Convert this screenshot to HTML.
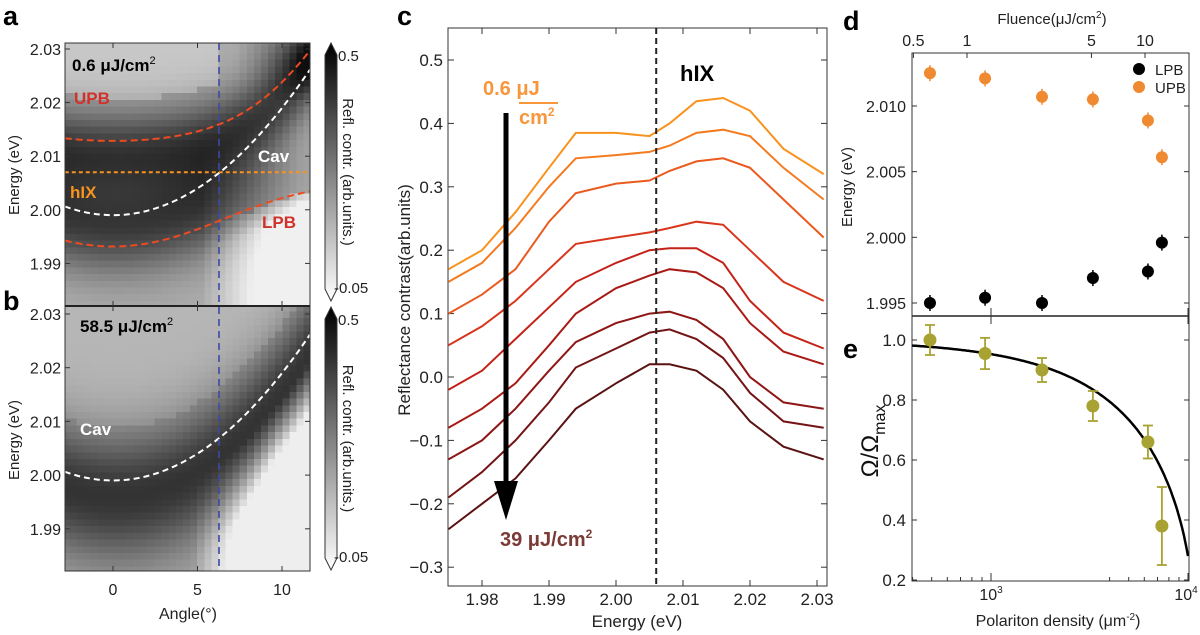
<!DOCTYPE html>
<html><head><meta charset="utf-8"><style>
html,body{margin:0;padding:0;background:#fff;}
body{position:relative;width:1200px;height:635px;overflow:hidden;}
svg{display:block;font-family:"Liberation Sans",Arial,sans-serif;}
</style></head><body>
<svg id="fig" width="1200" height="635" viewBox="0 0 1200 635" xmlns="http://www.w3.org/2000/svg">
<defs>
<linearGradient id="cbg" x1="0" y1="0" x2="0" y2="1"><stop offset="0" stop-color="#000"/><stop offset="1" stop-color="#fff"/></linearGradient>
<clipPath id="clipA"><rect x="65" y="43" width="245" height="263"/></clipPath>
<clipPath id="clipB"><rect x="65" y="306" width="245" height="265"/></clipPath>
<clipPath id="clipC"><rect x="448" y="28" width="379" height="558"/></clipPath>
<clipPath id="clipE"><rect x="912" y="316" width="277" height="265"/></clipPath>
</defs>
<g id="heatA" clip-path="url(#clipA)"></g>
<g id="heatB" clip-path="url(#clipB)"></g>
<g id="overlay"></g>
<g id="chartC"></g>
<g id="chartD"></g>
<g id="chartE"></g>
</svg>
<script>
// ---------- Panel c data ----------
const cEnergies = [1.975,1.98,1.985,1.99,1.994,2.0,2.005,2.008,2.012,2.016,2.02,2.025,2.031];
const cSeries = [
 [0.17,0.20,0.26,0.33,0.385,0.385,0.38,0.40,0.435,0.44,0.42,0.36,0.32],
 [0.15,0.18,0.235,0.30,0.345,0.35,0.355,0.365,0.385,0.39,0.38,0.33,0.28],
 [0.10,0.13,0.17,0.245,0.29,0.305,0.31,0.325,0.34,0.345,0.33,0.28,0.22],
 [0.05,0.08,0.12,0.17,0.21,0.22,0.228,0.235,0.245,0.24,0.20,0.15,0.12],
 [-0.02,0.01,0.06,0.11,0.15,0.18,0.20,0.203,0.203,0.18,0.12,0.07,0.045],
 [-0.08,-0.05,-0.01,0.05,0.10,0.14,0.16,0.17,0.165,0.14,0.085,0.04,0.02],
 [-0.13,-0.10,-0.05,0.01,0.055,0.085,0.10,0.103,0.09,0.06,0.00,-0.04,-0.05],
 [-0.19,-0.15,-0.10,-0.04,0.015,0.045,0.07,0.075,0.06,0.03,-0.025,-0.07,-0.08],
 [-0.24,-0.20,-0.16,-0.10,-0.05,-0.01,0.02,0.02,0.01,-0.02,-0.07,-0.11,-0.13]
];
const cColors = ["#f7931e","#f47a20","#ea5a1e","#d8361c","#c42218","#a91a16","#8e1614","#741414","#5a1212"];
const cYTicks = [0.5,0.4,0.3,0.2,0.1,0.0,-0.1,-0.2,-0.3];
const cYTickLabels = ["0.5","0.4","0.3","0.2","0.1","0.0","\u22120.1","\u22120.2","\u22120.3"];
const cXTicks = [1.98,1.99,2.00,2.01,2.02,2.03];
const cXTickLabels = ["1.98","1.99","2.00","2.01","2.02","2.03"];
const hIXEnergy = 2.006;

// ---------- Panel d data ----------
const dDensity = [490,933,1815,3290,6260,7370];
const dUPB = [2.0125,2.0121,2.0107,2.0105,2.0089,2.0061];
const dLPB = [1.9950,1.9954,1.9950,1.9969,1.9974,1.9996];
const dYTicks = [2.010,2.005,2.000,1.995];
const dYTickLabels = ["2.010","2.005","2.000","1.995"];
const fluenceTicks = [0.5,1,5,10];
const fluenceTickLabels = ["0.5","1","5","10"];

// ---------- Panel e data ----------
const eDensity = [490,933,1815,3290,6260,7370];
const eRatio = [1.0,0.955,0.90,0.78,0.66,0.38];
const eErr = [0.05,0.052,0.04,0.05,0.055,0.13];
const eYTicks = [1.0,0.8,0.6,0.4,0.2];
const eYTickLabels = ["1.0","0.8","0.6","0.4","0.2"];
const eFitN0 = 10850;

// ---------- Heatmap model params ----------
const cavMin = 1.999, cavCurv = 0.0002, hIX = 2.007, coupling = 0.009;

const NS="http://www.w3.org/2000/svg";
function mk(tag, attrs, parent){const e=document.createElementNS(NS,tag);for(const k in attrs)e.setAttribute(k,attrs[k]);parent.appendChild(e);return e;}

const aX = th => 113 + th*16.9;
const aY = E => 49 + (2.03-E)*5360;
const bY = E => 314 + (2.03-E)*5370;
const cX = E => 482 + (E-1.98)*6700;
const cY = v => 60 + (0.5-v)*634;
const dX = n => 991 + (Math.log10(n)-3)*197;
const fX = f => 967 + Math.log10(f)*178;
const dY = E => 106 + (2.010-E)*13133;
const eY = v => 340 + (1.0-v)*300;

function cav(th){return cavMin + cavCurv*th*th;}
function pol(th,sign){const c=cav(th);const m=(c+hIX)/2,h=(c-hIX)/2;return m+sign*Math.sqrt(h*h+coupling*coupling);}
function gauss(x,w){return Math.exp(-(x*x)/(w*w));}
function clamp(v){return Math.max(0,Math.min(1,v));}

(function(){
 const gA=document.getElementById('heatA'), gB=document.getElementById('heatB');
 const dth=0.42;
 for(let th=-3; th<11.8; th+=dth){
  for(let E=1.980; E<2.032; E+=0.00125){
   const up=pol(th,1), lo=pol(th,-1);
   const fr=clamp((th-5)/6);
   let d=0.3+0.5*gauss(E-lo-0.004,0.009)*(1-0.9*fr)+0.5*gauss(E-up+0.002,0.008)+0.3*clamp((th-7)/4)*clamp((E-2.02)/0.008);
   if(E<lo) d-= 0.6*fr*clamp((lo-E)/0.006+0.3);
   if(E>up+0.008&&th<6) d-=0.12;
   d=clamp(d);
   const g=Math.round(240-225*d);
   mk('rect',{x:aX(th).toFixed(1),y:aY(E+0.000625).toFixed(1),width:(dth*16.9+0.6).toFixed(1),height:7.4,fill:`rgb(${g},${g},${g})`,'shape-rendering':'crispEdges'},gA);
   const c=cav(th);
   let d2=0.32+0.55*gauss(E-c+0.003,0.012);
   if(E<c-0.004) d2-=0.9*clamp((th-4.5)/5)*clamp((c-0.004-E)/0.014);
   if(E>c+0.01) d2-=0.06;
   d2=clamp(d2);
   const g2=Math.round(238-215*d2);
   mk('rect',{x:aX(th).toFixed(1),y:bY(E+0.000625).toFixed(1),width:(dth*16.9+0.6).toFixed(1),height:7.4,fill:`rgb(${g2},${g2},${g2})`,'shape-rendering':'crispEdges'},gB);
  }
 }
})();

(function(){
 const g=document.getElementById('overlay');
 function curve(fn,yf,clip,color,dash,name){
  let p='';for(let th=-2.85;th<=11.7;th+=0.1){p+=(p?'L':'M')+aX(th).toFixed(1)+','+yf(fn(th)).toFixed(1);}
  const e=mk('path',{d:p,fill:'none',stroke:color,'stroke-width':2,'stroke-dasharray':dash,'clip-path':clip},g);
  
  
 }
 curve(th=>pol(th,1),aY,'url(#clipA)','#ee4a22','7,4','upb-curve');
 curve(th=>pol(th,-1),aY,'url(#clipA)','#ee4a22','7,4','lpb-curve');
 curve(cav,aY,'url(#clipA)','#ffffff','6,4','cav-curve-a');
 curve(()=>hIX,aY,'url(#clipA)','#f7931e','4,3','hix-line');
 curve(cav,bY,'url(#clipB)','#ffffff','6,4','cav-curve-b');
 mk('line',{x1:219,y1:43,x2:219,y2:571,stroke:'#3a4aa8','stroke-width':1.6,'stroke-dasharray':'7,5'},g);
 mk('rect',{x:65,y:43,width:245,height:528,fill:'none',stroke:'#333','stroke-width':1},g);
 mk('line',{x1:65,y1:306,x2:310,y2:306,stroke:'#222','stroke-width':2},g);
 [2.03,2.02,2.01,2.00,1.99].forEach(E=>{
  mk('line',{x1:65,y1:aY(E),x2:70,y2:aY(E),stroke:'#333'},g);mk('line',{x1:305,y1:aY(E),x2:310,y2:aY(E),stroke:'#333'},g);
  mk('line',{x1:65,y1:bY(E),x2:70,y2:bY(E),stroke:'#333'},g);mk('line',{x1:305,y1:bY(E),x2:310,y2:bY(E),stroke:'#333'},g);
  const t1=mk('text',{x:61,y:aY(E)+6,'text-anchor':'end','font-size':16,fill:'#222'},g);t1.textContent=E.toFixed(2);
  const t2=mk('text',{x:61,y:bY(E)+6,'text-anchor':'end','font-size':16,fill:'#222'},g);t2.textContent=E.toFixed(2);
 });
 [0,5,10].forEach(a=>{
  mk('line',{x1:aX(a),y1:571,x2:aX(a),y2:566,stroke:'#333'},g);mk('line',{x1:aX(a),y1:306,x2:aX(a),y2:301,stroke:'#333'},g);mk('line',{x1:aX(a),y1:306,x2:aX(a),y2:311,stroke:'#333'},g);mk('line',{x1:aX(a),y1:43,x2:aX(a),y2:48,stroke:'#333'},g);
  const t=mk('text',{x:aX(a),y:595,'text-anchor':'middle','font-size':16,fill:'#222'},g);t.textContent=String(a);
 });
 [[43,301],[307,570]].forEach(([t,b],i)=>{
  mk('polygon',{points:`325,${t+12} 331,${t} 337,${t+12} 337,${b-12} 331,${b} 325,${b-12}`,fill:'url(#cbg)',stroke:'#333','stroke-width':1},g);
  const l1=mk('text',{x:338,y:t+18,'font-size':15,fill:'#222'},g);l1.textContent='0.5';
  const l2=mk('text',{x:334,y:b-8,'font-size':15,fill:'#222'},g);l2.textContent='-0.05';
  const cl=mk('text',{x:0,y:0,'font-size':15,fill:'#222','text-anchor':'middle',transform:`translate(343,${(t+b)/2}) rotate(90)`},g);cl.textContent='Refl. contr. (arb.units.)';
  
  
 });
})();

(function(){
 const g=document.getElementById('chartC');
 mk('rect',{x:448,y:28,width:379,height:558,fill:'none',stroke:'#333','stroke-width':1},g);
 cYTicks.forEach((v,i)=>{
  mk('line',{x1:448,y1:cY(v),x2:454,y2:cY(v),stroke:'#333'},g);mk('line',{x1:821,y1:cY(v),x2:827,y2:cY(v),stroke:'#333'},g);
  const t=mk('text',{x:443,y:cY(v)+6,'text-anchor':'end','font-size':17,fill:'#222'},g);t.textContent=cYTickLabels[i];
 });
 cXTicks.forEach((v,i)=>{
  mk('line',{x1:cX(v),y1:586,x2:cX(v),y2:580,stroke:'#333'},g);mk('line',{x1:cX(v),y1:28,x2:cX(v),y2:34,stroke:'#333'},g);
  const t=mk('text',{x:cX(v),y:605,'text-anchor':'middle','font-size':17,fill:'#222'},g);t.textContent=cXTickLabels[i];
 });
 cSeries.forEach((s,i)=>{
  let p='';s.forEach((v,j)=>{p+=(j?'L':'M')+cX(cEnergies[j]).toFixed(1)+','+cY(v).toFixed(1);});
  const e=mk('path',{d:p,fill:'none',stroke:cColors[i],'stroke-width':2,'clip-path':'url(#clipC)'},g);
  
  
 });
 mk('line',{x1:cX(hIXEnergy),y1:28,x2:cX(hIXEnergy),y2:586,stroke:'#222','stroke-width':2,'stroke-dasharray':'6,4'},g);
 mk('line',{x1:506,y1:113,x2:506,y2:485,stroke:'#000','stroke-width':5},g);
 mk('polygon',{points:'494,481 518,481 506,520',fill:'#000'},g);
})();

(function(){
 const g=document.getElementById('chartD');
 mk('rect',{x:912,y:53,width:277,height:528,fill:'none',stroke:'#333','stroke-width':1},g);
 mk('line',{x1:912,y1:316,x2:1189,y2:316,stroke:'#222','stroke-width':1.5},g);
 dYTicks.forEach((v,i)=>{
  mk('line',{x1:912,y1:dY(v),x2:917,y2:dY(v),stroke:'#333'},g);mk('line',{x1:1184,y1:dY(v),x2:1189,y2:dY(v),stroke:'#333'},g);
  const t=mk('text',{x:906,y:dY(v)+6,'text-anchor':'end','font-size':16,fill:'#222'},g);t.textContent=dYTickLabels[i];
 });
 fluenceTicks.forEach((f,i)=>{
  mk('line',{x1:fX(f),y1:53,x2:fX(f),y2:58,stroke:'#333'},g);
  const t=mk('text',{x:fX(f),y:46,'text-anchor':'middle','font-size':16,fill:'#222'},g);t.textContent=fluenceTickLabels[i];
 });
 dDensity.forEach((n,i)=>{
  const u=mk('circle',{cx:dX(n),cy:dY(dUPB[i]),r:6,fill:'#f08a30'},g);
  
  
  mk('line',{x1:dX(n),y1:dY(dUPB[i])-8,x2:dX(n),y2:dY(dUPB[i])+8,stroke:'#f08a30','stroke-width':1.5},g);
  const l=mk('circle',{cx:dX(n),cy:dY(dLPB[i]),r:6,fill:'#000'},g);
  
  
  mk('line',{x1:dX(n),y1:dY(dLPB[i])-8,x2:dX(n),y2:dY(dLPB[i])+8,stroke:'#000','stroke-width':1.5},g);
 });
})();

(function(){
 const g=document.getElementById('chartE');
 eYTicks.forEach((v,i)=>{
  mk('line',{x1:912,y1:eY(v),x2:917,y2:eY(v),stroke:'#333'},g);mk('line',{x1:1184,y1:eY(v),x2:1189,y2:eY(v),stroke:'#333'},g);
  const t=mk('text',{x:906,y:eY(v)+6,'text-anchor':'end','font-size':17,fill:'#222'},g);t.textContent=eYTickLabels[i];
 });
 [1000,10000].forEach(n=>{mk('line',{x1:dX(n),y1:581,x2:dX(n),y2:573,stroke:'#333'},g);mk('line',{x1:dX(n),y1:316,x2:dX(n),y2:324,stroke:'#333'},g);mk('line',{x1:dX(n),y1:316,x2:dX(n),y2:308,stroke:'#333'},g);});
 for(let k=4;k<=9;k++){[100,1000].forEach(b=>{const n=k*b;if(n>398&&n<10000){mk('line',{x1:dX(n),y1:581,x2:dX(n),y2:577,stroke:'#333'},g);}});}
 let p='';for(let lx=2.6;lx<=4.0;lx+=0.005){const n=Math.pow(10,lx);const v=Math.sqrt(Math.max(0,1-n/eFitN0));p+=(p?'L':'M')+dX(n).toFixed(1)+','+eY(v).toFixed(1);}
 const fit=mk('path',{d:p,fill:'none',stroke:'#000','stroke-width':2.5,'clip-path':'url(#clipE)'},g);
 
 
 eDensity.forEach((n,i)=>{
  const x=dX(n),y=eY(eRatio[i]),y1=eY(eRatio[i]+eErr[i]),y2=eY(eRatio[i]-eErr[i]);
  mk('line',{x1:x,y1:y1,x2:x,y2:y2,stroke:'#a8a232','stroke-width':1.8},g);
  mk('line',{x1:x-5,y1:y1,x2:x+5,y2:y1,stroke:'#a8a232','stroke-width':1.8},g);
  mk('line',{x1:x-5,y1:y2,x2:x+5,y2:y2,stroke:'#a8a232','stroke-width':1.8},g);
  const c=mk('circle',{cx:x,cy:y,r:6.5,fill:'#a8a232'},g);
  
  
 });
})();
</script>
<svg width="1200" height="635" style="position:absolute;left:0;top:0" xmlns="http://www.w3.org/2000/svg">
<g font-family="Liberation Sans, Arial, sans-serif">
<text x="3" y="25" font-size="27" font-weight="bold">a</text>
<text x="3" y="310" font-size="27" font-weight="bold">b</text>
<text x="397" y="25" font-size="27" font-weight="bold">c</text>
<text x="843" y="30" font-size="27" font-weight="bold">d</text>
<text x="843" y="358" font-size="27" font-weight="bold">e</text>
<text x="72" y="71" font-size="17" font-weight="bold" fill="#000">0.6 μJ/cm<tspan font-size="11" dy="-7" font-weight="normal">2</tspan></text>
<text x="74" y="104" font-size="17" font-weight="bold" fill="#d0322a">UPB</text>
<text x="258" y="162" font-size="17" font-weight="bold" fill="#fff">Cav</text>
<text x="70" y="198" font-size="17" font-weight="bold" fill="#f7931e">hIX</text>
<text x="262" y="228" font-size="17" font-weight="bold" fill="#d0322a">LPB</text>
<text x="80" y="332" font-size="17" font-weight="bold" fill="#000">58.5 μJ/cm<tspan font-size="11" dy="-7" font-weight="normal">2</tspan></text>
<text x="80" y="435" font-size="17" font-weight="bold" fill="#fff">Cav</text>
<text transform="translate(19,175) rotate(-90)" text-anchor="middle" font-size="15" fill="#222">Energy (eV)</text>
<text transform="translate(19,440) rotate(-90)" text-anchor="middle" font-size="15" fill="#222">Energy (eV)</text>
<text x="188" y="619" text-anchor="middle" font-size="16" fill="#222">Angle(°)</text>
<text transform="translate(410,300) rotate(-90)" text-anchor="middle" font-size="17" fill="#222">Reflectance contrast(arb.units)</text>
<text x="637" y="627" text-anchor="middle" font-size="17" fill="#222">Energy (eV)</text>
<text x="483" y="95" font-size="20" font-weight="bold" fill="#f7963a">0.6 μJ</text>
<line x1="519" y1="103" x2="558" y2="103" stroke="#f7963a" stroke-width="2"/>
<text x="519" y="124" font-size="20" font-weight="bold" fill="#f7963a">cm<tspan font-size="12" dy="-8">2</tspan></text>
<text x="500" y="546" font-size="20" font-weight="bold" fill="#7a3a36">39 μJ/cm<tspan font-size="12" dy="-8">2</tspan></text>
<text x="680" y="81" font-size="22" font-weight="bold" fill="#000">hIX</text>
<text x="1052" y="24" text-anchor="middle" font-size="15" fill="#222">Fluence(μJ/cm<tspan font-size="10" dy="-6">2</tspan><tspan dy="6">)</tspan></text>
<text transform="translate(852,187) rotate(-90)" text-anchor="middle" font-size="15" fill="#222">Energy (eV)</text>
<circle cx="1139" cy="69" r="6" fill="#000"/>
<text x="1155" y="75" font-size="15" fill="#222">LPB</text>
<circle cx="1139" cy="87" r="6" fill="#f08a30"/>
<text x="1155" y="93" font-size="15" fill="#222">UPB</text>
<text transform="translate(878,441) rotate(-90)" text-anchor="middle" font-size="24" fill="#111">Ω/Ω<tspan font-size="16" dy="7">max</tspan></text>
<text x="991" y="600" text-anchor="middle" font-size="16" fill="#222">10<tspan font-size="10" dy="-7">3</tspan></text>
<text x="1186" y="600" text-anchor="middle" font-size="16" fill="#222">10<tspan font-size="10" dy="-7">4</tspan></text>
<text x="1058" y="626" text-anchor="middle" font-size="16" fill="#222">Polariton density (μm<tspan font-size="10" dy="-6">-2</tspan><tspan dy="6">)</tspan></text>
</g>
</svg>
</body></html>
